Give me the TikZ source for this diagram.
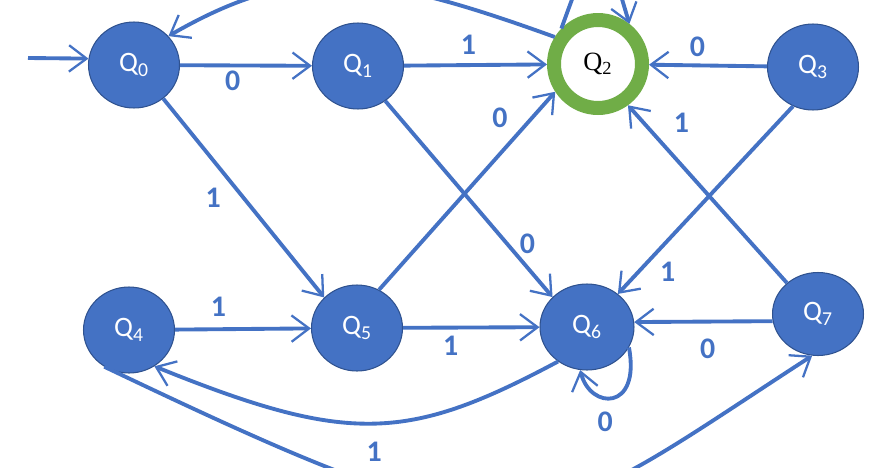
\documentclass[tikz,border=0pt]{standalone}
\usepackage{fontspec}
\setmainfont{Carlito}
\newfontfamily\serifQ{Liberation Serif}
\usetikzlibrary{shapes.geometric}
\usetikzlibrary{arrows.meta}
\definecolor{stateblue}{HTML}{4472C4}
\definecolor{stateline}{HTML}{2F528F}
\definecolor{acceptgreen}{HTML}{70AD47}

\begin{document}
\begin{tikzpicture}[x=0.02cm,y=-0.02cm,
	>={Straight Barb[length=10pt,width=15pt,line width=1.3pt]},
	main node/.style={ellipse,draw=stateline,line width=0.6pt,fill=stateblue,
		text=white,inner sep=0pt,minimum width=1.82cm,minimum height=1.72cm,
		font=\fontsize{16}{18}\selectfont},
	accept node/.style={circle,draw=acceptgreen,line width=0.28cm,fill=white,
		inner sep=0pt,minimum size=1.76cm,font=\serifQ\fontsize{15}{17}\selectfont},
	every edge/.style={draw=stateblue,line width=2.2pt,->},
	conn/.style={draw=stateblue,line width=2.2pt,->},
	lbl/.style={font=\bfseries\fontsize{17}{19}\selectfont,text=stateblue,inner sep=1pt}]

	\useasboundingbox (0,0) rectangle (890,467);
	\clip (0,0) rectangle (890,467);

	\node[main node] (q0) at (134,65) {Q\textsubscript{0}};
	\node[main node] (q1) at (358,66) {Q\textsubscript{1}};
	\node[accept node] (q2) at (598,64) {Q\textsubscript{2}};
	\node[main node] (q3) at (813,67) {Q\textsubscript{3}};
	\node[main node] (q4) at (129,330) {Q\textsubscript{4}};
	\node[main node] (q5) at (357,328) {Q\textsubscript{5}};
	\node[main node,minimum width=1.88cm] (q6) at (587,327) {Q\textsubscript{6}};
	\node[main node,minimum height=1.66cm] (q7) at (818,314) {Q\textsubscript{7}};
	\coordinate (start) at (28,58);

	\path[every node/.style={lbl}]
	(start) edge (q0.172)
	(q0) edge node[pos=0.4,below=1pt] {0} (q1)
	(q1) edge node[pos=0.45,above=4pt] {1} (q2)
	(q3) edge node[pos=0.59,above=3pt] {0} (q2)
	(q0.-49) edge node[pos=0.5,left=11pt] {1} (q5.137)
	(q1.-52) edge node[pos=0.73,right=5pt] {0} (q6.139)
	(q5.60) edge node[pos=0.87,left=12pt] {0} (q2.213)
	(q7.135) edge node[pos=0.9,right=15pt] {1} (q2.-54)
	(q3.-117) edge node[pos=0.88,right=10pt] {1} (q6.47)
	(q4) edge node[pos=0.32,above=5pt] {1} (q5)
	(q5) edge node[pos=0.35,below=3pt] {1} (q6)
	(q7.189) edge node[pos=0.47,below=8pt] {0} (q6.6);

	% curves running out of the frame
	\draw[conn] (q2.148) .. controls +(-180,-65) and +(130,-75) .. (q0.40);
	\draw[conn] (q2.136) .. controls +(40,-110) and +(-30,-100) .. (q2.52);
	\draw[conn] (q6.-130) .. controls +(-150,80) and +(195,79) .. (q4.-55);
	\draw[conn] (q6.-26) .. controls +(12,64) and +(10,40) ..
		node[lbl,pos=0.6,below=6pt] {0} (q6.-99);
	\draw[conn] (q4.-124) .. controls +(430,205) and +(-290,188) ..
		node[lbl,pos=0.275,above=11pt] {1} (q7.-98);
\end{tikzpicture}
\end{document}
